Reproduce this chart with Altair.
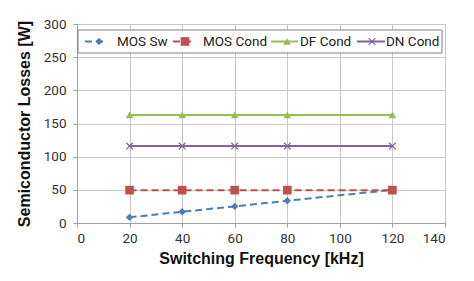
import altair as alt
import pandas as pd

freq = [20, 40, 60, 80, 120]
mos_sw = [8.5, 17, 25, 33.5, 50]
mos_cond = [49.5, 49.5, 49.5, 49.5, 49.5]
df_cond = [163, 163, 163, 163, 163]
dn_cond = [116, 116, 116, 116, 116]

series = ["MOS Sw", "MOS Cond", "DF Cond", "DN Cond"]
colors = ["#4a7ebb", "#c0504d", "#9bbb59", "#8064a2"]
dashes = [[7, 4], [7, 4], [1, 0], [1, 0]]
marker_shapes = ["diamond", "square", "triangle-up", "M-1,-1L1,1M-1,1L1,-1"]
marker_filled = [True, True, True, False]
marker_sizes = [55, 75, 60, 45]

# legend layout (pixels inside plot area)
leg_line_x1 = [8, 96, 194, 280]
leg_line_x2 = [28, 116, 221, 308]
leg_mark_x = [22, 108, 210, 295]
leg_text_x = [40, 126, 223, 309]
leg_y = 17.5

rows = []
for name, vals in zip(series, [mos_sw, mos_cond, df_cond, dn_cond]):
    for f, v in zip(freq, vals):
        rows.append({"freq": f, "loss": v, "series": name})
df = pd.DataFrame(rows)

leg_df = pd.DataFrame({"series": series, "x1": leg_line_x1, "x2": leg_line_x2,
                       "mx": leg_mark_x, "tx": leg_text_x})

x = alt.X("freq:Q", title="Switching Frequency [kHz]",
          scale=alt.Scale(domain=[0, 140], nice=False),
          axis=alt.Axis(values=list(range(0, 141, 20))))
y = alt.Y("loss:Q", title="Semiconductor Losses [W]",
          scale=alt.Scale(domain=[0, 300], nice=False),
          axis=alt.Axis(values=list(range(0, 301, 50))))
col = alt.Color("series:N", scale=alt.Scale(domain=series, range=colors), legend=None)
dash = alt.StrokeDash("series:N", scale=alt.Scale(domain=series, range=dashes), legend=None)

lines = alt.Chart(df).mark_line(strokeWidth=2).encode(x=x, y=y, color=col, strokeDash=dash)

pt_layers = []
leg_pt_layers = []
for name, shp, fil, sz in zip(series, marker_shapes, marker_filled, marker_sizes):
    pt_layers.append(
        alt.Chart(df).transform_filter(alt.datum.series == name)
        .mark_point(shape=shp, filled=fil, size=sz, opacity=1, strokeWidth=1.3)
        .encode(x=x, y=y, color=col)
    )
    leg_pt_layers.append(
        alt.Chart(leg_df).transform_filter(alt.datum.series == name)
        .mark_point(shape=shp, filled=fil, size=sz, opacity=1, strokeWidth=1.3)
        .encode(x=alt.X("mx:Q", scale=None), y=alt.value(leg_y), color=col)
    )

leg_box = alt.Chart(alt.Data(values=[{}])).mark_rect(
    fill="white", stroke="#7f7f7f", strokeWidth=1
).encode(x=alt.value(1), x2=alt.value(365), y=alt.value(6), y2=alt.value(29))

leg_lines = alt.Chart(leg_df).mark_rule(strokeWidth=2).encode(
    x=alt.X("x1:Q", scale=None), x2="x2:Q", y=alt.value(leg_y), color=col, strokeDash=dash
)

leg_text = alt.Chart(leg_df).mark_text(
    align="left", baseline="middle", font="Roboto", fontSize=13.5, color="#222"
).encode(x=alt.X("tx:Q", scale=None), y=alt.value(leg_y + 0.5), text="series:N")

chart = alt.layer(lines, *pt_layers, leg_box, leg_lines, *leg_pt_layers, leg_text).properties(
    width=368, height=199,
    autosize=alt.AutoSizeParams(type="none"),
    padding={"left": 77, "top": 24, "right": 29, "bottom": 58},
).configure_view(stroke="#a0a0a0", strokeWidth=1).configure_axis(
    grid=True, gridColor="#c8c8c8", gridWidth=1,
    domainColor="#a0a0a0", tickColor="#a0a0a0", tickSize=4,
    labelFont="Roboto", labelFontSize=13.5, labelColor="#333",
    titleFont="Liberation Sans", titleFontSize=16, titleFontWeight="bold", titleColor="#111",
).configure_axisX(titlePadding=6, labelPadding=4).configure_axisY(titlePadding=11, labelPadding=7)

chart.save("out.html", embed_options={"renderer": "svg", "actions": False})
